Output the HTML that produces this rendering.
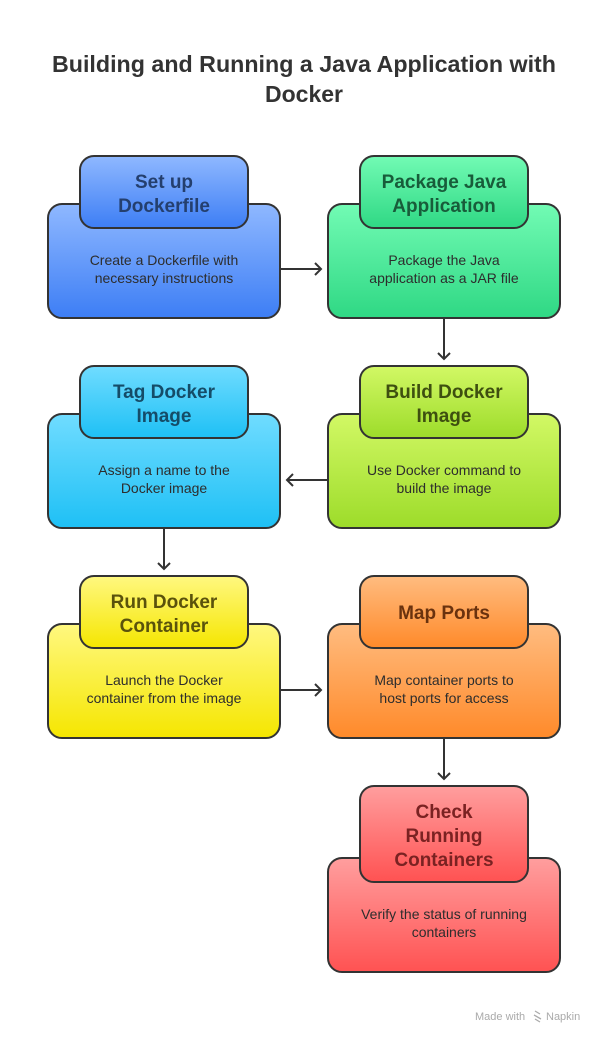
<!DOCTYPE html>
<html><head><meta charset="utf-8">
<style>
html,body{margin:0;padding:0;background:#fff;}
svg{display:block;}
text{font-family:"Liberation Sans",sans-serif;}
</style></head>
<body>
<svg width="608" height="1044" viewBox="0 0 608 1044" xmlns="http://www.w3.org/2000/svg">
<defs>
<linearGradient id="gb" x1="0" y1="0" x2="0" y2="1"><stop offset="0" stop-color="#8fb8ff"/><stop offset="1" stop-color="#3d7ef5"/></linearGradient>
<linearGradient id="gg" x1="0" y1="0" x2="0" y2="1"><stop offset="0" stop-color="#72fbb4"/><stop offset="1" stop-color="#2fd884"/></linearGradient>
<linearGradient id="gl" x1="0" y1="0" x2="0" y2="1"><stop offset="0" stop-color="#d2f865"/><stop offset="1" stop-color="#9ddc2a"/></linearGradient>
<linearGradient id="gc" x1="0" y1="0" x2="0" y2="1"><stop offset="0" stop-color="#70dcff"/><stop offset="1" stop-color="#1ec0f5"/></linearGradient>
<linearGradient id="gy" x1="0" y1="0" x2="0" y2="1"><stop offset="0" stop-color="#fff880"/><stop offset="1" stop-color="#f5e600"/></linearGradient>
<linearGradient id="go" x1="0" y1="0" x2="0" y2="1"><stop offset="0" stop-color="#ffbc80"/><stop offset="1" stop-color="#ff8a2a"/></linearGradient>
<linearGradient id="gr" x1="0" y1="0" x2="0" y2="1"><stop offset="0" stop-color="#ff9e9e"/><stop offset="1" stop-color="#ff5252"/></linearGradient>
</defs>

<text x="304" y="72" text-anchor="middle" font-size="23" font-weight="bold" fill="#333" textLength="504" lengthAdjust="spacingAndGlyphs">Building and Running a Java Application with</text>
<text x="304" y="102" text-anchor="middle" font-size="23" font-weight="bold" fill="#333">Docker</text>

<g stroke="#333" stroke-width="2" fill="none">
<path d="M281 269 H321 M315 263 L321 269 L315 275"/>
<path d="M444 319 V359 M438 353 L444 359 L450 353"/>
<path d="M327 480 H287 M293 474 L287 480 L293 486"/>
<path d="M164 529 V569 M158 563 L164 569 L170 563"/>
<path d="M281 690 H321 M315 684 L321 690 L315 696"/>
<path d="M444 739 V779 M438 773 L444 779 L450 773"/>
</g>

<g stroke="#333" stroke-width="2">
<rect x="48" y="204" width="232" height="114" rx="14" fill="url(#gb)"/>
<rect x="80" y="156" width="168" height="72" rx="14" fill="url(#gb)"/>
<rect x="328" y="204" width="232" height="114" rx="14" fill="url(#gg)"/>
<rect x="360" y="156" width="168" height="72" rx="14" fill="url(#gg)"/>
<rect x="48" y="414" width="232" height="114" rx="14" fill="url(#gc)"/>
<rect x="80" y="366" width="168" height="72" rx="14" fill="url(#gc)"/>
<rect x="328" y="414" width="232" height="114" rx="14" fill="url(#gl)"/>
<rect x="360" y="366" width="168" height="72" rx="14" fill="url(#gl)"/>
<rect x="48" y="624" width="232" height="114" rx="14" fill="url(#gy)"/>
<rect x="80" y="576" width="168" height="72" rx="14" fill="url(#gy)"/>
<rect x="328" y="624" width="232" height="114" rx="14" fill="url(#go)"/>
<rect x="360" y="576" width="168" height="72" rx="14" fill="url(#go)"/>
<rect x="328" y="858" width="232" height="114" rx="14" fill="url(#gr)"/>
<rect x="360" y="786" width="168" height="96" rx="14" fill="url(#gr)"/>
</g>

<g font-size="19" font-weight="bold" text-anchor="middle">
<text x="164" y="188" fill="#243f6e">Set up</text>
<text x="164" y="212" fill="#243f6e">Dockerfile</text>
<text x="444" y="188" fill="#185c3a">Package Java</text>
<text x="444" y="212" fill="#185c3a">Application</text>
<text x="164" y="398" fill="#154c68">Tag Docker</text>
<text x="164" y="422" fill="#154c68">Image</text>
<text x="444" y="398" fill="#3e4f10">Build Docker</text>
<text x="444" y="422" fill="#3e4f10">Image</text>
<text x="164" y="608" fill="#5a520c">Run Docker</text>
<text x="164" y="632" fill="#5a520c">Container</text>
<text x="444" y="619" fill="#6a320e">Map Ports</text>
<text x="444" y="818" fill="#7a2222">Check</text>
<text x="444" y="842" fill="#7a2222">Running</text>
<text x="444" y="866" fill="#7a2222">Containers</text>
</g>

<g font-size="14" text-anchor="middle" fill="#2d2d2d">
<text x="164" y="265">Create a Dockerfile with</text>
<text x="164" y="283">necessary instructions</text>
<text x="444" y="265">Package the Java</text>
<text x="444" y="283">application as a JAR file</text>
<text x="164" y="475">Assign a name to the</text>
<text x="164" y="493">Docker image</text>
<text x="444" y="475">Use Docker command to</text>
<text x="444" y="493">build the image</text>
<text x="164" y="685">Launch the Docker</text>
<text x="164" y="703">container from the image</text>
<text x="444" y="685">Map container ports to</text>
<text x="444" y="703">host ports for access</text>
<text x="444" y="919">Verify the status of running</text>
<text x="444" y="937">containers</text>
</g>

<text x="475" y="1020" font-size="11" fill="#aaa">Made with</text>
<g stroke="#aaa" stroke-width="1.3" fill="none"><path d="M535 1011 l5 3 M534 1015 l7 4 M535 1019 l5 3"/></g>
<text x="546" y="1020" font-size="11" fill="#aaa">Napkin</text>
</svg>
</body></html>
